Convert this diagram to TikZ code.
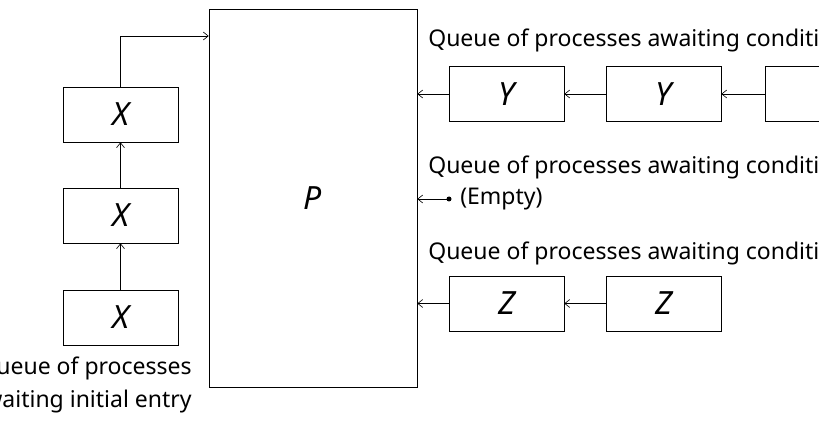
\documentclass[tikz,border=0pt]{standalone}
\usepackage{fontspec}
\setmainfont{Noto Sans}
\usetikzlibrary{positioning,arrows.meta}
\tikzset{
  box/.style={draw, minimum width=115pt, minimum height=55pt, inner sep=0pt, font=\fontsize{32}{32}\selectfont\itshape},
  lbl/.style={font=\fontsize{23}{33}\selectfont, inner sep=0pt}
}
\begin{document}
\begin{tikzpicture}[x=1pt,y=-1pt,>={Straight Barb[length=5pt,width=8pt]},line width=0.6pt]
\useasboundingbox (0,0) rectangle (819,430);
\clip (0,0) rectangle (819,430);
\node[draw, minimum width=208pt, minimum height=378pt, inner sep=0pt, font=\fontsize{32}{32}\selectfont\itshape] (P) at (313,198) {P};
\node[box] (X1) at (120.5,114.5) {X};
\node[box] (X2) at (120.5,215.5) {X};
\node[box] (X3) at (120.5,317.5) {X};
\node[box] (Y1) at (506.5,94) {Y};
\node[box] (Y2) at (663.5,94) {Y};
\node[box] (Y3) at (822.5,94) {};
\node[box] (Z1) at (506.5,303.5) {Z};
\node[box] (Z2) at (663.5,303.5) {Z};
\node[lbl, anchor=west] (q1) at (428,40) {Queue of processes awaiting condition};
\node[lbl, anchor=west] (q2) at (428,167) {Queue of processes awaiting condition};
\node[lbl, anchor=west] (q3) at (428,253) {Queue of processes awaiting condition};
\node[lbl, align=right, anchor=north east] (q0) at (192,357) {Queue of processes\\awaiting initial entry};
\coordinate (dot) at (449,199);
\fill (dot) circle (2.5pt);
\node[lbl, anchor=west] (empty) at (460,199) {(Empty)};
\draw[->] (X3) -- (X2);
\draw[->] (X2) -- (X1);
\draw[->] (X1.north) |- (P.west |- 0,36);
\draw[->] (Y3) -- (Y2);
\draw[->] (Y2) -- (Y1);
\draw[->] (Y1) -- (P.east |- Y1);
\draw[->] (dot) -- (P.east |- dot);
\draw[->] (Z2) -- (Z1);
\draw[->] (Z1) -- (P.east |- Z1);
\end{tikzpicture}
\end{document}
